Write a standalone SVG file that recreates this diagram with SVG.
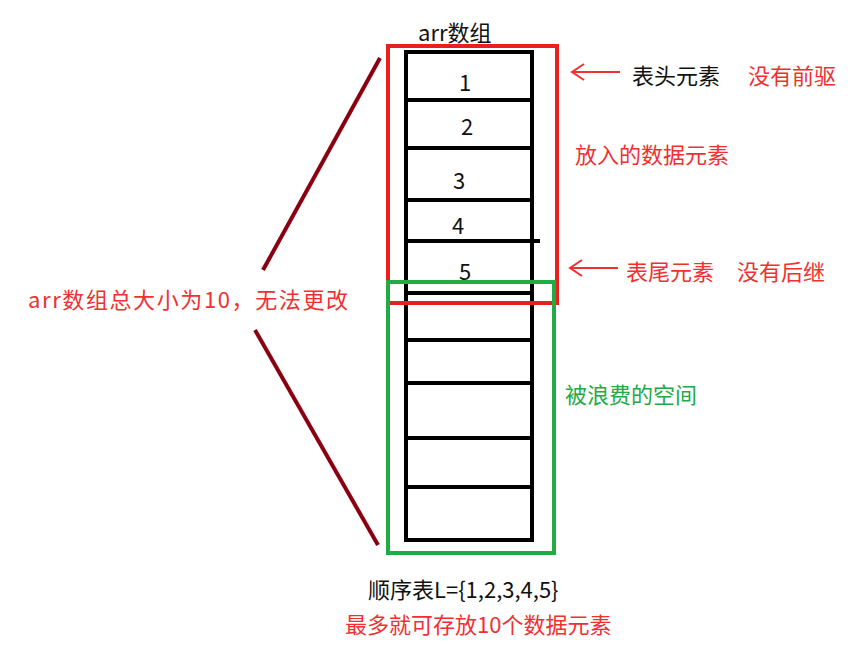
<svg xmlns="http://www.w3.org/2000/svg" width="865" height="659" viewBox="0 0 865 659">
<style>
text{font-family:"Noto Sans CJK SC","Noto Sans",sans-serif;font-size:22px}
.r{fill:#f03030}.g{fill:#22aa44}.k{fill:#111}
.cell{stroke:#000;stroke-width:4;fill:none}
.arr{stroke:#f03030;stroke-width:2;fill:none}
</style>
<rect width="865" height="659" fill="#fff"/>
<g id="array">
<rect class="cell" x="406" y="52" width="126" height="488"/>
<g class="cell">
<line x1="406" y1="100" x2="532" y2="100"/><line x1="406" y1="148" x2="532" y2="148"/>
<line x1="406" y1="200" x2="532" y2="200"/><line x1="406" y1="241" x2="540" y2="241"/>
<line x1="406" y1="293" x2="532" y2="293"/><line x1="406" y1="340" x2="532" y2="340"/>
<line x1="406" y1="383" x2="532" y2="383"/><line x1="406" y1="438" x2="532" y2="438"/>
<line x1="406" y1="487" x2="532" y2="487"/>
</g>
<text x="459" y="91" class="k">1</text><text x="461" y="135" class="k">2</text>
<text x="453" y="189" class="k">3</text><text x="452" y="234" class="k">4</text>
<text x="459" y="280" class="k">5</text>
<text x="418" y="41" class="k">arr数组</text>
</g>
<g id="regions">
<rect x="388" y="46" width="169" height="257" fill="none" stroke="#e82020" stroke-width="4"/>
<rect x="388" y="282" width="166" height="271" fill="none" stroke="#22aa44" stroke-width="4"/>
</g>
<g id="connectors" stroke="#8b0010" stroke-width="4" fill="none">
<line x1="380" y1="58" x2="263" y2="270"/>
<line x1="255" y1="330" x2="378" y2="545"/>
</g>
<g id="arrows" class="arr">
<path d="M572 72 H620 M584 64 L572 72 L584 80"/>
<path d="M570 268 H618 M582 260 L570 268 L582 276"/>
</g>
<g id="labels">
<text x="632" y="84" class="k">表头元素</text><text x="748" y="84" class="r">没有前驱</text>
<text x="575" y="163" class="r">放入的数据元素</text>
<text x="626" y="280" class="r">表尾元素</text><text x="737" y="280" class="r">没有后继</text>
<text x="565" y="403" class="g">被浪费的空间</text>
<text x="28" y="308" class="r" textLength="320">arr数组总大小为10，无法更改</text>
<text x="368" y="598" class="k">顺序表L={1,2,3,4,5}</text>
<text x="345" y="633" class="r">最多就可存放10个数据元素</text>
</g>
</svg>
